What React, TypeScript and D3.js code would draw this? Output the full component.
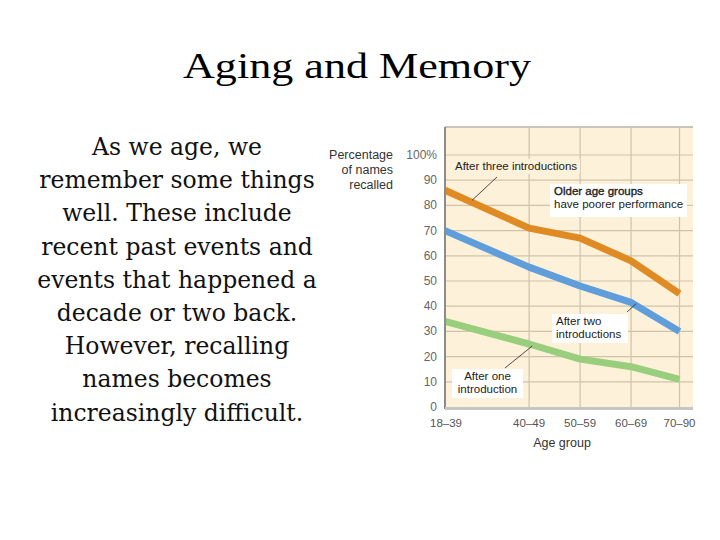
import React from "react";
import * as d3 from "d3";

// age groups, plotted at their midpoint age
const ageGroups = ["18–39", "40–49", "50–59", "60–69", "70–90"];
const ageMid = [28, 44.5, 54.5, 64.5, 74];

// percentage of names recalled
const threeIntros = [86, 71, 67, 58, 45];
const twoIntros = [70, 55.5, 48, 41.5, 30];
const oneIntro = [34, 25, 19, 16, 11];

const yTicks = [0, 10, 20, 30, 40, 50, 60, 70, 80, 90, 100];

const bodyLines = [
  "As we age, we",
  "remember some things",
  "well. These include",
  "recent past events and",
  "events that happened a",
  "decade or two back.",
  "However, recalling",
  "names becomes",
  "increasingly difficult.",
];

const W = 720;
const H = 540;
const plot = { left: 445, right: 693, top: 127, bottom: 409 };

const x = d3.scaleLinear().domain([28, 74]).range([445, 679.5]);
const y = d3.scaleLinear().domain([0, 100]).range([407, 155]);

const sans = "'Liberation Sans', Arial, sans-serif";

const series = [
  { values: threeIntros, color: "#e08a24" },
  { values: twoIntros, color: "#5f9ddb" },
  { values: oneIntro, color: "#99cf7c" },
];

const line = d3
  .line<number>()
  .x((_, i) => x(ageMid[i]))
  .y((d) => y(d));

type Note = {
  lines: string[];
  box: [number, number, number, number];
  anchor: "start" | "middle";
  fill: string;
  heavy?: boolean;
  from?: [number, number];
  to?: [number, number]; // [age, percent]
};

const notes: Note[] = [
  {
    lines: ["After three introductions"],
    box: [451, 159, 129, 15],
    anchor: "start",
    fill: "#fdf1d9",
    from: [497, 177],
    to: [33.3, 82],
  },
  {
    lines: ["Older age groups", "have poorer performance"],
    box: [550, 184, 137, 33],
    anchor: "start",
    fill: "#ffffff",
    heavy: true,
  },
  {
    lines: ["After two", "introductions"],
    box: [552, 314, 76, 29],
    anchor: "start",
    fill: "#ffffff",
    from: [627, 312],
    to: [65.5, 41],
  },
  {
    lines: ["After one", "introduction"],
    box: [452, 369, 71, 29],
    anchor: "middle",
    fill: "#ffffff",
    from: [505, 368],
    to: [45.1, 24.2],
  },
];

export default function App() {
  return (
    <div style={{ position: "absolute", left: 0, top: 0 }}>
      <svg width={W} height={H} viewBox={`0 0 ${W} ${H}`} style={{ display: "block", background: "#fff" }}>
        {/* title */}
        <text
          x={357}
          y={78}
          textAnchor="middle"
          fontFamily="'Liberation Serif', 'Times New Roman', serif"
          fontSize={36}
          textLength={348}
          lengthAdjust="spacingAndGlyphs"
          fill="#000"
        >
          Aging and Memory
        </text>

        {/* body text */}
        <g fontFamily="'DejaVu Serif', serif" fontSize={23.5} fill="#111" textAnchor="middle">
          {bodyLines.map((t, i) => (
            <text key={i} x={177} y={155 + i * 33.2}>
              {t}
            </text>
          ))}
        </g>

        {/* plot background */}
        <rect
          x={plot.left}
          y={plot.top}
          width={plot.right - plot.left}
          height={plot.bottom - plot.top}
          fill="#fdf1d9"
        />
        <line x1={plot.left} x2={plot.right} y1={plot.top} y2={plot.top} stroke="#c9c4bb" strokeWidth={2} />

        {/* grid */}
        <g stroke="#cfc3ad" strokeWidth={1.2}>
          {yTicks.slice(1).map((t) => (
            <line key={t} x1={plot.left} x2={plot.right} y1={y(t)} y2={y(t)} />
          ))}
          {ageMid.slice(1).map((a) => (
            <line key={a} x1={x(a)} x2={x(a)} y1={plot.top} y2={y(0)} />
          ))}
        </g>

        {/* annotation boxes */}
        {notes.map((n, i) => (
          <rect key={i} x={n.box[0]} y={n.box[1]} width={n.box[2]} height={n.box[3]} fill={n.fill} />
        ))}

        {/* series lines */}
        {series.map((s, i) => (
          <path
            key={i}
            d={line(s.values) ?? ""}
            fill="none"
            stroke={s.color}
            strokeWidth={7}
            strokeLinejoin="round"
          />
        ))}

        {/* axes */}
        <line x1={plot.left} x2={plot.left} y1={plot.top} y2={y(0) + 2} stroke="#8c8c8c" strokeWidth={2} />
        <line x1={plot.left} x2={plot.right} y1={y(0) + 1.5} y2={y(0) + 1.5} stroke="#c6c6c6" strokeWidth={3} />

        {/* annotation text + leaders */}
        <g fontFamily={sans} fontSize={11.5} fill="#222">
          {notes.map((n, i) => {
            const tx = n.anchor === "middle" ? n.box[0] + n.box[2] / 2 : n.box[0] + 4;
            return (
              <g key={i}>
                {n.lines.map((t, j) => (
                  <text
                    key={j}
                    x={tx}
                    y={n.box[1] + 11 + j * 13}
                    textAnchor={n.anchor}
                    stroke={n.heavy && j === 0 ? "#222" : "none"}
                    strokeWidth={0.35}
                  >
                    {t}
                  </text>
                ))}
                {n.from && n.to && (
                  <line
                    x1={n.from[0]}
                    y1={n.from[1]}
                    x2={x(n.to[0])}
                    y2={y(n.to[1])}
                    stroke="#222"
                    strokeWidth={0.8}
                  />
                )}
              </g>
            );
          })}
        </g>

        {/* y axis labels */}
        <g fontFamily={sans} fontSize={12} fill="#666" textAnchor="end">
          {yTicks.map((t) => (
            <text key={t} x={437} y={y(t) + 4}>
              {t === 100 ? "100%" : t}
            </text>
          ))}
        </g>
        <g fontFamily={sans} fontSize={12.5} fill="#333" textAnchor="end">
          {["Percentage", "of names", "recalled"].map((t, i) => (
            <text key={i} x={393} y={159 + i * 15}>
              {t}
            </text>
          ))}
        </g>

        {/* x axis labels */}
        <g fontFamily={sans} fontSize={11.5} fill="#555" textAnchor="middle">
          {ageGroups.map((g, i) => (
            <text key={g} x={x(ageMid[i]) + (i === 0 ? 1 : 0)} y={427}>
              {g}
            </text>
          ))}
        </g>
        <text x={562} y={447} textAnchor="middle" fontFamily={sans} fontSize={12.5} fill="#333">
          Age group
        </text>
      </svg>
    </div>
  );
}
